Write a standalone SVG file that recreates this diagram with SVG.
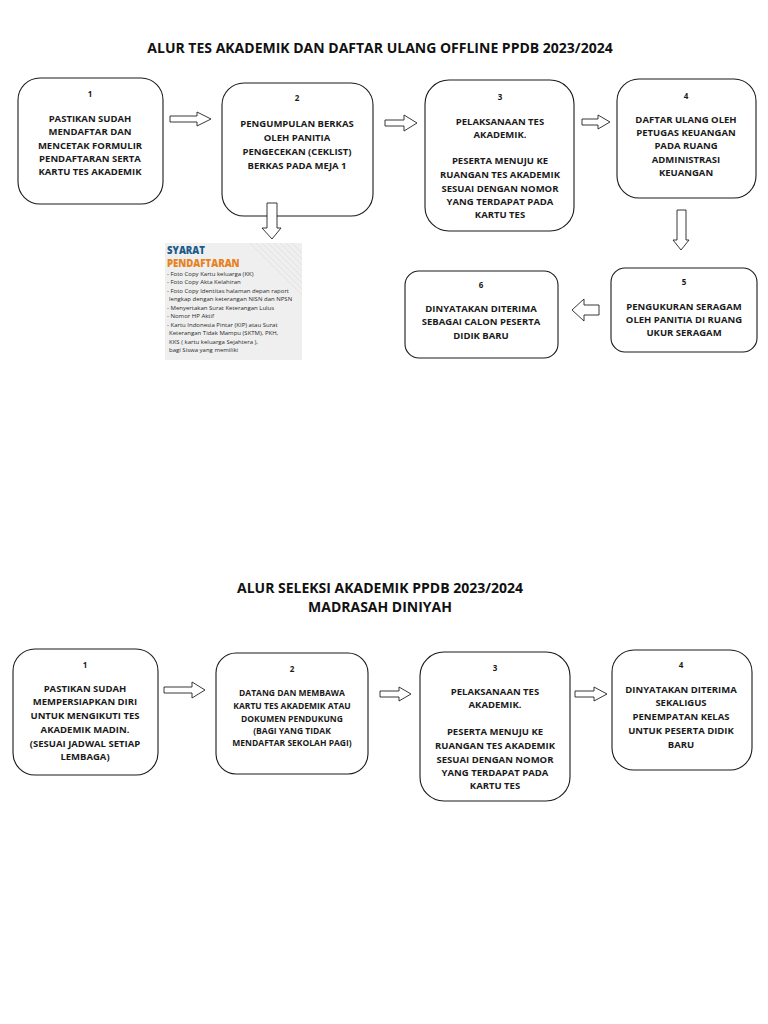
<svg xmlns="http://www.w3.org/2000/svg" width="768" height="1024" viewBox="0 0 768 1024">
<style>
.box{fill:#fff;stroke:#1a1a1a;stroke-width:1.1}
.t{font-family:"Open Sans","Liberation Sans",sans-serif;font-weight:700;font-size:9.5px;fill:#1a1a1a;text-anchor:middle}
.n{font-size:8px}
.ttl{font-family:"Open Sans","Liberation Sans",sans-serif;font-weight:700;font-size:14px;fill:#111;text-anchor:middle}
.arr{fill:#fff;stroke:#222;stroke-width:0.9}
.s{font-family:"Open Sans","Liberation Sans",sans-serif;font-size:6px;fill:#2a2a2a}
.sh{font-family:"Open Sans","Liberation Sans",sans-serif;font-weight:800;font-size:9.6px}
</style>
<defs>
<clipPath id="cp"><rect x="165" y="243" width="137" height="117"/></clipPath>
</defs>
<rect width="768" height="1024" fill="#fff"/>
<text class="ttl" x="380" y="53">ALUR TES AKADEMIK DAN DAFTAR ULANG OFFLINE PPDB 2023/2024</text>
<text class="ttl" x="380" y="593">ALUR SELEKSI AKADEMIK PPDB 2023/2024</text>
<text class="ttl" x="380" y="612">MADRASAH DINIYAH</text>

<g id="n1">
<rect class="box" x="18" y="78" width="145" height="126" rx="22"/>
<text class="t n" x="90" y="97">1</text>
<text class="t" x="90" y="122">PASTIKAN SUDAH</text>
<text class="t" x="90" y="135">MENDAFTAR DAN</text>
<text class="t" x="90" y="149">MENCETAK FORMULIR</text>
<text class="t" x="90" y="162">PENDAFTARAN SERTA</text>
<text class="t" x="90" y="175">KARTU TES AKADEMIK</text>
</g>
<g id="n2">
<rect class="box" x="222" y="83" width="151" height="133" rx="22"/>
<text class="t n" x="297" y="101">2</text>
<text class="t" x="297" y="127">PENGUMPULAN BERKAS</text>
<text class="t" x="297" y="141">OLEH PANITIA</text>
<text class="t" x="297" y="155">PENGECEKAN (CEKLIST)</text>
<text class="t" x="297" y="169">BERKAS PADA MEJA 1</text>
</g>
<g id="n3">
<rect class="box" x="425" y="80" width="149" height="151" rx="24"/>
<text class="t n" x="500" y="100">3</text>
<text class="t" x="500" y="125">PELAKSANAAN TES</text>
<text class="t" x="500" y="138">AKADEMIK.</text>
<text class="t" x="500" y="164">PESERTA MENUJU KE</text>
<text class="t" x="500" y="178">RUANGAN TES AKADEMIK</text>
<text class="t" x="500" y="192">SESUAI DENGAN NOMOR</text>
<text class="t" x="500" y="205">YANG TERDAPAT PADA</text>
<text class="t" x="500" y="218">KARTU TES</text>
</g>
<g id="n4">
<rect class="box" x="617" y="79" width="139" height="119" rx="22"/>
<text class="t n" x="686" y="99">4</text>
<text class="t" x="686" y="123">DAFTAR ULANG OLEH</text>
<text class="t" x="686" y="136">PETUGAS KEUANGAN</text>
<text class="t" x="686" y="149">PADA RUANG</text>
<text class="t" x="686" y="163">ADMINISTRASI</text>
<text class="t" x="686" y="176">KEUANGAN</text>
</g>
<g id="n5">
<rect class="box" x="611" y="268" width="146" height="84" rx="14"/>
<text class="t n" x="684" y="285">5</text>
<text class="t" x="684" y="310">PENGUKURAN SERAGAM</text>
<text class="t" x="684" y="323">OLEH PANITIA DI RUANG</text>
<text class="t" x="684" y="336">UKUR SERAGAM</text>
</g>
<g id="n6">
<rect class="box" x="405" y="271" width="153" height="87" rx="14"/>
<text class="t n" x="481" y="288">6</text>
<text class="t" x="481" y="312">DINYATAKAN DITERIMA</text>
<text class="t" x="481" y="325">SEBAGAI CALON PESERTA</text>
<text class="t" x="481" y="339">DIDIK BARU</text>
</g>

<g id="syarat">
<rect x="165" y="243" width="137" height="117" fill="#efefef"/>
<g clip-path="url(#cp)" stroke="#dcdcdc" stroke-width="0.7">
<path d="M262 243 L322 303 M268 243 L328 303 M274 243 L334 303 M280 243 L340 303 M286 243 L346 303 M292 243 L352 303 M256 243 L316 303 M250 243 L310 303"/>
</g>
<text class="sh" x="167" y="254" fill="#1d5b8a">SYARAT</text>
<text class="sh" x="167" y="267" fill="#e8821e">PENDAFTARAN</text>
<text class="s" x="167" y="275.5">- Foto Copy Kartu keluarga (KK)</text>
<text class="s" x="167" y="284">- Foto Copy Akta Kelahiran</text>
<text class="s" x="167" y="292.5">- Foto Copy Identitas halaman depan raport</text>
<text class="s" x="169" y="301">lengkap dengan keterangan NISN dan NPSN</text>
<text class="s" x="167" y="309.5">- Menyertakan Surat Keterangan Lulus</text>
<text class="s" x="167" y="318">- Nomor HP Aktif</text>
<text class="s" x="167" y="326.5">- Kartu Indonesia Pintar (KIP) atau Surat</text>
<text class="s" x="169" y="335">Keterangan Tidak Mampu (SKTM), PKH,</text>
<text class="s" x="169" y="343.5">KKS ( kartu keluarga Sejahtera ),</text>
<text class="s" x="169" y="352">bagi Siswa yang memiliki</text>
</g>

<g id="b1">
<rect class="box" x="13" y="649" width="145" height="126" rx="22"/>
<text class="t n" x="85" y="668">1</text>
<text class="t" x="85" y="692">PASTIKAN SUDAH</text>
<text class="t" x="85" y="705">MEMPERSIAPKAN DIRI</text>
<text class="t" x="85" y="719">UNTUK MENGIKUTI TES</text>
<text class="t" x="85" y="733">AKADEMIK MADIN.</text>
<text class="t" x="85" y="747">(SESUAI JADWAL SETIAP</text>
<text class="t" x="85" y="760">LEMBAGA)</text>
</g>
<g id="b2">
<rect class="box" x="216" y="653" width="152" height="121" rx="20"/>
<text class="t n" x="292" y="672">2</text>
<text class="t" x="292" y="696" style="font-size:8.5px">DATANG DAN MEMBAWA</text>
<text class="t" x="292" y="709" style="font-size:8.5px">KARTU TES AKADEMIK ATAU</text>
<text class="t" x="292" y="722" style="font-size:8.5px">DOKUMEN PENDUKUNG</text>
<text class="t" x="292" y="734" style="font-size:8.5px">(BAGI YANG TIDAK</text>
<text class="t" x="292" y="746" style="font-size:8.5px">MENDAFTAR SEKOLAH PAGI)</text>
</g>
<g id="b3">
<rect class="box" x="420" y="652" width="150" height="149" rx="24"/>
<text class="t n" x="495" y="671">3</text>
<text class="t" x="495" y="695">PELAKSANAAN TES</text>
<text class="t" x="495" y="708">AKADEMIK.</text>
<text class="t" x="495" y="735">PESERTA MENUJU KE</text>
<text class="t" x="495" y="749">RUANGAN TES AKADEMIK</text>
<text class="t" x="495" y="763">SESUAI DENGAN NOMOR</text>
<text class="t" x="495" y="776">YANG TERDAPAT PADA</text>
<text class="t" x="495" y="789">KARTU TES</text>
</g>
<g id="b4">
<rect class="box" x="612" y="650" width="140" height="120" rx="22"/>
<text class="t n" x="681" y="668">4</text>
<text class="t" x="681" y="693">DINYATAKAN DITERIMA</text>
<text class="t" x="681" y="706">SEKALIGUS</text>
<text class="t" x="681" y="720">PENEMPATAN KELAS</text>
<text class="t" x="681" y="734">UNTUK PESERTA DIDIK</text>
<text class="t" x="681" y="748">BARU</text>
</g>

<g id="connectors">
<polygon class="arr" points="170,116 197,116 197,112 211,119 197,126 197,122 170,122"/>
<polygon class="arr" points="385,120 404,120 404,115 417,123 404,131 404,126 385,126"/>
<polygon class="arr" points="582,119 598,119 598,115 610,122 598,129 598,125 582,125"/>
<polygon class="arr" points="267,203 277,203 277,228 281,228 272,239 262,228 267,228"/>
<polygon class="arr" points="677,210 686,210 686,240 689,240 681,250 673,240 677,240"/>
<polygon class="arr" points="599,305 584,305 584,299 572,310 584,321 584,315 599,315"/>
<polygon class="arr" points="164,687 192,687 192,682 205,690 192,698 192,693 164,693"/>
<polygon class="arr" points="380,691 399,691 399,687 411,694 399,701 399,697 380,697"/>
<polygon class="arr" points="575,691 594,691 594,687 607,694 594,701 594,697 575,697"/>
</g>
</svg>
